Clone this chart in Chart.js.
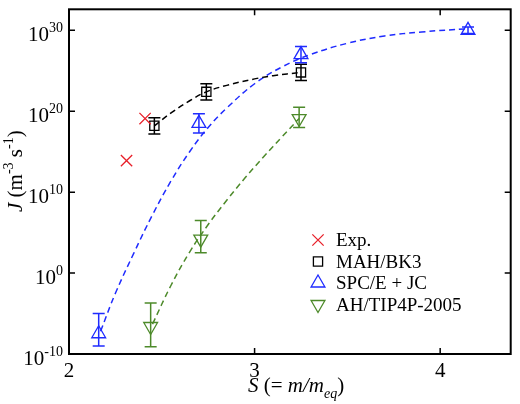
<!DOCTYPE html>
<html><head><meta charset="utf-8">
<script src="https://cdn.jsdelivr.net/npm/chart.js@4"></script>
<style>body{margin:0;background:#fff}#wrap{width:520px;height:404px}</style>
</head><body><div id="wrap"><canvas id="c"></canvas></div>
<script>
// exponents (log10 J)
const expS = [2.31, 2.41];
const expJ = [13.9, 19.1];
const mahS = [2.46, 2.74, 3.25];
const mahJ = [18.2, 22.4, 24.8];
const mahLo = [17.2, 21.4, 23.8];
const mahHi = [19.2, 23.4, 25.8];
const spcS = [2.16, 2.70, 3.25, 4.15];
const spcJ = [-7.5, 18.5, 27.0, 30.0];
const spcLo = [-9.0, 17.3, 26.0, 29.6];
const spcHi = [-5.0, 19.7, 28.0, 30.4];
const ahS = [2.44, 2.71, 3.24];
const ahJ = [-6.6, 4.2, 19.1];
const ahLo = [-9.1, 2.5, 18.0];
const ahHi = [-3.7, 6.5, 20.5];
// dashed fit curves
const mahFitS = [2.46, 2.55, 2.65, 2.74, 2.85, 3.0, 3.1, 3.25];
const mahFitJ = [18.2, 19.8, 21.3, 22.4, 23.2, 24.0, 24.4, 24.8];
const spcFitS = [2.17, 2.25, 2.35, 2.45, 2.55, 2.65, 2.75, 2.85, 3.0, 3.15, 3.3, 3.5, 3.7, 3.9, 4.15];
const spcFitJ = [-7.2, -2.5, 2.5, 7.2, 11.4, 15.0, 18.0, 20.4, 23.4, 25.5, 27.0, 28.4, 29.3, 29.8, 30.2];
const ahFitS = [2.45, 2.55, 2.65, 2.75, 2.85, 2.95, 3.05, 3.15, 3.24];
const ahFitJ = [-6.3, -1.5, 2.6, 6.0, 9.0, 11.8, 14.4, 16.9, 19.1];
const yTicks = [-10, 0, 10, 20, 30];
const xTicks = [2, 3, 4];

const pts = (xs, ys) => xs.map((x, i) => ({x: x, y: Math.pow(10, ys[i])}));
const FONT = '"Liberation Serif", "DejaVu Serif", serif';
const RED = '#e8202a', BLUE = '#1f2bff', GREEN = '#4d8a2a';

const series = [
  {label: 'Exp.', s: expS, j: expJ, color: RED, style: 'crossRot'},
  {label: 'MAH/BK3', s: mahS, j: mahJ, lo: mahLo, hi: mahHi, color: '#000', style: 'rect'},
  {label: 'SPC/E + JC', s: spcS, j: spcJ, lo: spcLo, hi: spcHi, color: BLUE, style: 'triangle'},
  {label: 'AH/TIP4P-2005', s: ahS, j: ahJ, lo: ahLo, hi: ahHi, color: GREEN, style: 'triangle', rot: 180}
];

const fits = [[mahFitS, mahFitJ, '#000'], [spcFitS, spcFitJ, BLUE], [ahFitS, ahFitJ, GREEN]];

const datasets = fits.map(f => ({
  data: pts(f[0], f[1]), borderColor: f[2], borderWidth: 1.5, borderDash: [6, 4],
  pointRadius: 0, showLine: true, tension: 0.4, fill: false
})).concat(series.map(s => ({
  data: pts(s.s, s.j), showLine: false, pointStyle: s.style, pointRotation: s.rot || 0,
  pointRadius: s.style === 'rect' ? 6.5 : 8, borderColor: s.color, backgroundColor: 'rgba(0,0,0,0)',
  pointBorderWidth: 1.3
})));

const sup = (ctx, base, exp, x, y, align) => {
  ctx.font = '21px ' + FONT;
  const bw = ctx.measureText(base).width;
  ctx.font = '14px ' + FONT;
  const ew = ctx.measureText(exp).width;
  let x0 = align === 'right' ? x - bw - ew : x;
  ctx.font = '21px ' + FONT;
  ctx.fillText(base, x0, y);
  ctx.font = '14px ' + FONT;
  ctx.fillText(exp, x0 + bw, y - 9);
};

const deco = {
  id: 'deco',
  afterDatasetsDraw(chart) {
    const ctx = chart.ctx, xs = chart.scales.x, ys = chart.scales.y, a = chart.chartArea;
    ctx.save();
    // error bars
    series.forEach(s => {
      if (!s.lo) return;
      ctx.strokeStyle = s.color; ctx.lineWidth = 1.5;
      s.s.forEach((v, i) => {
        const px = xs.getPixelForValue(v);
        const t = ys.getPixelForValue(Math.pow(10, s.hi[i]));
        const b = ys.getPixelForValue(Math.pow(10, s.lo[i]));
        ctx.beginPath();
        ctx.moveTo(px, t); ctx.lineTo(px, b);
        ctx.moveTo(px - 6, t); ctx.lineTo(px + 6, t);
        ctx.moveTo(px - 6, b); ctx.lineTo(px + 6, b);
        ctx.stroke();
      });
    });
    // frame and inward ticks
    ctx.strokeStyle = '#000'; ctx.lineWidth = 2;
    ctx.strokeRect(a.left, a.top, a.right - a.left, a.bottom - a.top);
    ctx.lineWidth = 1.5;
    ctx.fillStyle = '#000';
    ctx.textBaseline = 'alphabetic';
    yTicks.forEach(e => {
      const py = ys.getPixelForValue(Math.pow(10, e));
      ctx.beginPath(); ctx.moveTo(a.left, py); ctx.lineTo(a.left + 6, py);
      ctx.moveTo(a.right, py); ctx.lineTo(a.right - 6, py); ctx.stroke();
      sup(ctx, '10', String(e), a.left - 6, py + 11, 'right');
    });
    ctx.textAlign = 'center';
    ctx.font = '21px ' + FONT;
    xTicks.forEach(v => {
      const px = xs.getPixelForValue(v);
      ctx.beginPath(); ctx.moveTo(px, a.bottom); ctx.lineTo(px, a.bottom - 6);
      ctx.moveTo(px, a.top); ctx.lineTo(px, a.top + 6); ctx.stroke();
      ctx.fillText(String(v), px, a.bottom + 23);
    });
    // x title
    ctx.textAlign = 'left';
    let x = 248, y = 392;
    ctx.font = 'italic 21px ' + FONT; ctx.fillText('S', x, y); x += ctx.measureText('S').width;
    ctx.font = '21px ' + FONT; ctx.fillText(' (= ', x, y); x += ctx.measureText(' (= ').width;
    ctx.font = 'italic 21px ' + FONT; ctx.fillText('m/m', x, y); x += ctx.measureText('m/m').width;
    ctx.font = 'italic 14px ' + FONT; ctx.fillText('eq', x, y + 6); x += ctx.measureText('eq').width;
    ctx.font = '21px ' + FONT; ctx.fillText(')', x, y);
    // y title
    ctx.save();
    ctx.translate(22, 212); ctx.rotate(-Math.PI / 2);
    x = 0; y = 0;
    ctx.font = 'italic 21px ' + FONT; ctx.fillText('J', x, y); x += ctx.measureText('J ').width;
    ctx.font = '21px ' + FONT; ctx.fillText('(m', x, y); x += ctx.measureText('(m').width;
    ctx.font = '14px ' + FONT; ctx.fillText('-3', x, y - 9); x += ctx.measureText('-3').width;
    ctx.font = '21px ' + FONT; ctx.fillText(' s', x, y); x += ctx.measureText(' s').width;
    ctx.font = '14px ' + FONT; ctx.fillText('-1', x, y - 9); x += ctx.measureText('-1').width;
    ctx.font = '21px ' + FONT; ctx.fillText(')', x, y);
    ctx.restore();
    // legend
    series.forEach((s, i) => {
      const ly = 240 + i * 21.5;
      ctx.strokeStyle = s.color;
      ctx.fillStyle = 'rgba(0,0,0,0)';
      ctx.lineWidth = 1.3;
      Chart.helpers.drawPoint(ctx, {pointStyle: s.style, rotation: s.rot || 0,
        radius: s.style === 'rect' ? 6.5 : 8, borderWidth: 1.3}, 318, ly);
      ctx.fillStyle = '#000'; ctx.font = '19px ' + FONT;
      ctx.fillText(s.label, 336, ly + 6);
    });
    ctx.restore();
  }
};

new Chart(document.getElementById('c'), {
  type: 'scatter',
  data: {datasets: datasets},
  options: {
    responsive: true, maintainAspectRatio: false, animation: false,
    layout: {padding: {left: 69, top: 0, right: 0, bottom: 50}},
    plugins: {legend: {display: false}, tooltip: {enabled: false}},
    scales: {
      x: {type: 'linear', min: 2, max: 4.38, display: false},
      y: {type: 'logarithmic', min: 1e-10, max: Math.pow(10, 32.6), display: false}
    }
  },
  plugins: [deco]
});
</script></body></html>
